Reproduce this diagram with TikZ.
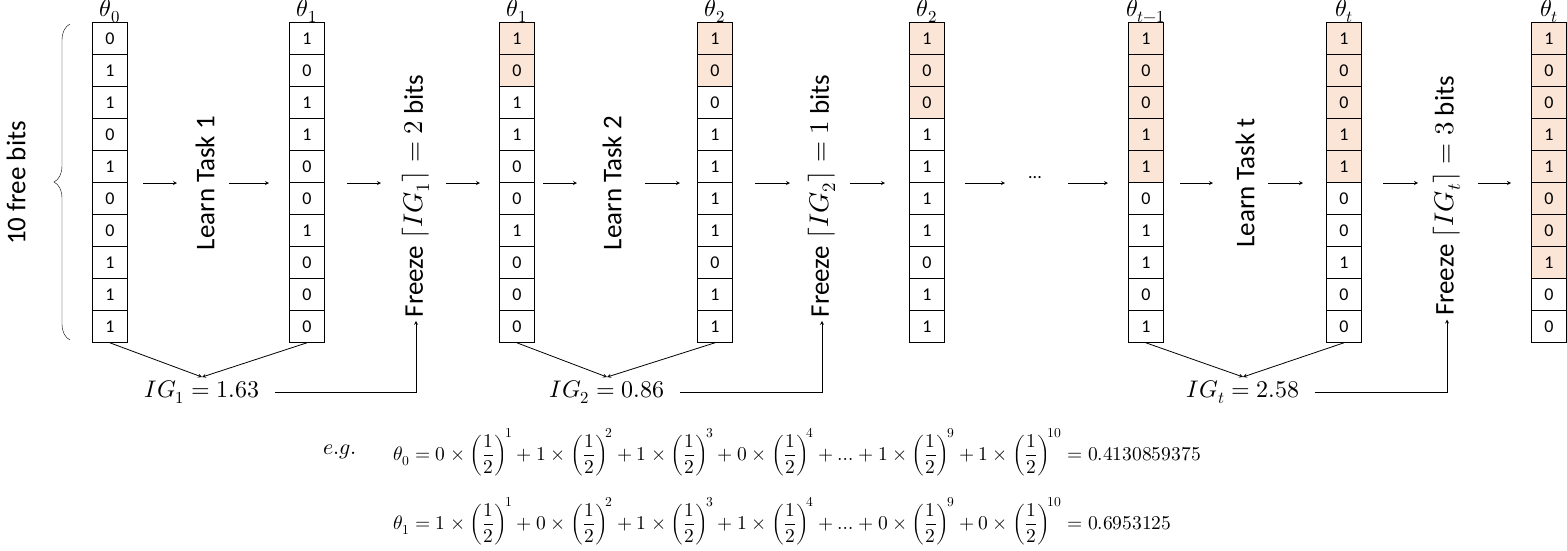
\documentclass[tikz,border=0pt]{standalone}
\usepackage{amsmath}
\usepackage{fontspec}
\usepackage{unicode-math}
\setmainfont{Carlito}
\setmathfont{Latin Modern Math}
\usetikzlibrary{decorations.pathreplacing,calc}
\definecolor{frz}{HTML}{FBE5D6}
\tikzset{
  cell/.style={draw,line width=0.8pt,minimum width=35pt,minimum height=32pt,inner sep=0pt,font=\fontsize{18}{20}\selectfont,anchor=north west},
  lbl/.style={font=\fontsize{24}{26}\selectfont},
  vtxt/.style={rotate=90,font=\fontsize{27}{30}\selectfont},
  arr/.style={->,line width=0.8pt,>=stealth},
  igt/.style={font=\fontsize{24}{28}\selectfont}
}
\newcommand{\bitcol}[5]{% name, x, nshaded, label, bits
  \foreach \b [count=\i] in {#5} {
    \ifnum\i>#3\relax
      \node[cell] (#1-\i) at (#2,{22+32*(\i-1)}) {\b};
    \else
      \node[cell,fill=frz] (#1-\i) at (#2,{22+32*(\i-1)}) {\b};
    \fi
  }
  \node[lbl,above=-4pt] (#1-t) at (#1-1.north) {$#4$};
}
\begin{document}
\begin{tikzpicture}[x=1pt,y=-1pt]
\useasboundingbox (0,0) rectangle (1567,550);
\bitcol{a}{92}{0}{\theta_0}{0,1,1,0,1,0,0,1,1,1}
\bitcol{b}{289}{0}{\theta_1}{1,0,1,1,0,0,1,0,0,0}
\bitcol{c}{499}{2}{\theta_1}{1,0,1,1,0,0,1,0,0,0}
\bitcol{d}{697}{2}{\theta_2}{1,0,0,1,1,1,1,0,1,1}
\bitcol{e}{909}{3}{\theta_2}{1,0,0,1,1,1,1,0,1,1}
\bitcol{f}{1128}{5}{\theta_{t-1}}{1,0,0,1,1,0,1,1,0,1}
\bitcol{g}{1326}{5}{\theta_t}{1,0,0,1,1,0,0,1,0,0}
\bitcol{h}{1531}{8}{\theta_t}{1,0,0,1,1,0,0,1,0,0}
% brace
\draw[decorate,decoration={brace,amplitude=16pt}] (70,340) -- (70,24);
\node[vtxt] (fb) at (16,183) {10 free bits};
% vertical texts
\node[vtxt] (l1) at (205,183) {Learn Task 1};
\node[vtxt] (l2) at (612,183) {Learn Task 2};
\node[vtxt] (lt) at (1245,183) {Learn Task t};
\node[vtxt] (f1) at (416,196) {Freeze $\lceil IG_1\rceil = 2$ bits};
\node[vtxt] (f2) at (822,196) {Freeze $\lceil IG_2\rceil = 1$ bits};
\node[vtxt] (ft) at (1447,196) {Freeze $\lceil IG_t\rceil = 3$ bits};
\node[font=\fontsize{18}{20}\selectfont] (dots) at (1035,178) {...};
% horizontal arrows
\foreach \p/\q in {143/177,229/269,347/381,446/480,543/577,645/680,755/790,850/885,965/1005,1068/1108,1180/1213,1268/1303,1383/1418,1478/1511}
  \draw[arr] (\p,183) -- (\q,183);
% IG nodes
\node[igt] (ig1) at (202,392) {$IG_1 = 1.63$};
\node[igt] (ig2) at (607,392) {$IG_2 = 0.86$};
\node[igt] (igt) at (1243,392) {$IG_t = 2.58$};
\draw[arr] (a-10.south) -- (ig1.north);
\draw[arr] (b-10.south) -- (ig1.north);
\draw[arr] (c-10.south) -- (ig2.north);
\draw[arr] (d-10.south) -- (ig2.north);
\draw[arr] (f-10.south) -- (igt.north);
\draw[arr] (g-10.south) -- (igt.north);
\draw[arr] (ig1.east)++(12,0) -- (f1.west |- ig1.east) -- (f1.west);
\draw[arr] (ig2.east)++(12,0) -- (f2.west |- ig2.east) -- (f2.west);
\draw[arr] (igt.east)++(12,0) -- (ft.west |- igt.east) -- (ft.west);
% formulas
\node[font=\fontsize{22}{24}\selectfont] (eg) at (340,452) {$e.g.$};
\node[anchor=west,font=\fontsize{19.5}{22}\selectfont] (e0) at (390,452) {$\theta_0 = 0\times\left(\dfrac12\right)^{\!1} + 1\times\left(\dfrac12\right)^{\!2} + 1\times\left(\dfrac12\right)^{\!3} + 0\times\left(\dfrac12\right)^{\!4} + \ldots + 1\times\left(\dfrac12\right)^{\!9} + 1\times\left(\dfrac12\right)^{\!10} = 0.4130859375$};
\node[anchor=west,font=\fontsize{19.5}{22}\selectfont] (e1) at (390,521) {$\theta_1 = 1\times\left(\dfrac12\right)^{\!1} + 0\times\left(\dfrac12\right)^{\!2} + 1\times\left(\dfrac12\right)^{\!3} + 1\times\left(\dfrac12\right)^{\!4} + \ldots + 0\times\left(\dfrac12\right)^{\!9} + 0\times\left(\dfrac12\right)^{\!10} = 0.6953125$};
\end{tikzpicture}
\end{document}
